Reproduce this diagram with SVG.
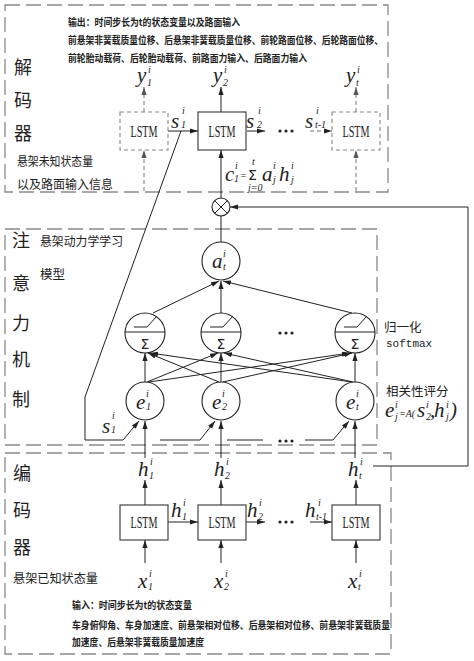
<svg xmlns="http://www.w3.org/2000/svg" width="474" height="661" viewBox="0 0 474 661">
<defs>
<marker id="ah" viewBox="0 0 10 10" refX="10" refY="5" markerWidth="8" markerHeight="8" orient="auto" markerUnits="userSpaceOnUse"><path d="M0,1.8 L10,5 L0,8.2 z" fill="#222"/></marker>
<marker id="ahg" viewBox="0 0 10 10" refX="10" refY="5" markerWidth="8" markerHeight="8" orient="auto" markerUnits="userSpaceOnUse"><path d="M0,1.8 L10,5 L0,8.2 z" fill="#555"/></marker>
</defs>
<style>
.frame{fill:none;stroke:#8a8a8a;stroke-width:1.3;stroke-dasharray:15 6}
.ln{fill:none;stroke:#222;stroke-width:1}
.dl{fill:none;stroke:#777;stroke-width:1;stroke-dasharray:4 3}
.box{fill:#fff;stroke:#333;stroke-width:1.1}
.dbox{fill:#fff;stroke:#888;stroke-width:1.1;stroke-dasharray:4 3}
.circ{fill:#fff;stroke:#222;stroke-width:1.1}
.big{font-family:"Noto Sans CJK SC","Noto Sans",sans-serif;font-size:18px;fill:#222}
.mid{font-family:"Noto Sans CJK SC","Noto Sans",sans-serif;font-size:12.5px;fill:#222}
.sm{font-family:"Noto Sans CJK SC","Noto Sans",sans-serif;font-size:10px;font-weight:bold;fill:#222}
.lstm{font-family:"Liberation Serif",serif;font-size:16px;fill:#222}
.m{font-family:"Liberation Serif",serif;font-style:italic;font-size:21px;fill:#222}
.ms{font-family:"Liberation Serif",serif;font-style:italic;font-size:10px;fill:#222}
.mono{font-family:"Liberation Mono",monospace;font-size:11px;fill:#222}
.sig{font-family:"DejaVu Sans",sans-serif;font-size:14px;fill:#222}
</style>

<g id="decoder-frame">
<rect class="frame" x="5" y="5" width="383" height="187"/>
<text class="big" x="14" y="74">解</text>
<text class="big" x="14" y="107">码</text>
<text class="big" x="14" y="140">器</text>
<text class="mid" x="17" y="166" textLength="76" lengthAdjust="spacingAndGlyphs">悬架未知状态量</text>
<text class="mid" x="17" y="189" textLength="96" lengthAdjust="spacingAndGlyphs">以及路面输入信息</text>
<text class="sm" x="68" y="26" textLength="172" lengthAdjust="spacingAndGlyphs">输出：时间步长为t的状态变量以及路面输入</text>
<text class="sm" x="68" y="44" textLength="315" lengthAdjust="spacingAndGlyphs">前悬架非簧载质量位移、后悬架非簧载质量位移、前轮路面位移、后轮路面位移、</text>
<text class="sm" x="68" y="62" textLength="239" lengthAdjust="spacingAndGlyphs">前轮胎动载荷、后轮胎动载荷、前路面力输入、后路面力输入</text>
</g>
<g id="attention-frame">
<rect class="frame" x="5" y="229" width="372" height="216"/>
<text class="big" x="12" y="247">注</text>
<text class="big" x="12" y="290">意</text>
<text class="big" x="12" y="330">力</text>
<text class="big" x="12" y="366">机</text>
<text class="big" x="12" y="406">制</text>
<text class="mid" x="40" y="246" textLength="83" lengthAdjust="spacingAndGlyphs">悬架动力学学习</text>
<text class="mid" x="40" y="279">模型</text>
<text class="mid" x="384" y="332">归一化</text>
<text class="mono" x="386" y="347">softmax</text>
<text class="mid" x="386" y="396">相关性评分</text>
<text class="m" x="385" y="417">e</text><text class="ms" x="395" y="408">i</text><text class="ms" x="395" y="420">j</text>
<text class="ms" x="399" y="417" font-size="11">=A(</text>
<text class="m" x="417" y="417">s</text><text class="ms" x="426" y="408">i</text><text class="ms" x="426" y="420">2</text>
<text class="m" x="430" y="417" font-size="15">,</text>
<text class="m" x="434" y="417">h</text><text class="ms" x="446" y="408">i</text><text class="ms" x="446" y="420">j</text>
<text class="m" x="450" y="417" font-size="17">)</text>
</g>
<g id="encoder-frame">
<rect class="frame" x="5" y="453" width="386" height="201"/>
<text class="big" x="13" y="480">编</text>
<text class="big" x="13" y="517">码</text>
<text class="big" x="13" y="554">器</text>
<text class="mid" x="13" y="583" textLength="85" lengthAdjust="spacingAndGlyphs">悬架已知状态量</text>
<text class="sm" x="72" y="609" textLength="120" lengthAdjust="spacingAndGlyphs">输入：时间步长为t的状态变量</text>
<text class="sm" x="72" y="629" textLength="318" lengthAdjust="spacingAndGlyphs">车身俯仰角、车身加速度、前悬架相对位移、后悬架相对位移、前悬架非簧载质量</text>
<text class="sm" x="72" y="646" textLength="132" lengthAdjust="spacingAndGlyphs">加速度、后悬架非簧载质量加速度</text>
</g>

<g id="connectors">
<line class="dl" x1="144" y1="112" x2="144" y2="87" marker-end="url(#ahg)"/>
<line class="ln" x1="221" y1="112" x2="221" y2="87" marker-end="url(#ah)"/>
<line class="dl" x1="356" y1="112" x2="356" y2="87" marker-end="url(#ahg)"/>
<line class="dl" x1="144" y1="191" x2="144" y2="150" marker-end="url(#ahg)"/>
<line class="dl" x1="356" y1="191" x2="356" y2="150" marker-end="url(#ahg)"/>
<line class="ln" x1="168" y1="131" x2="198" y2="131" marker-end="url(#ah)"/>
<line class="ln" x1="247" y1="131" x2="265" y2="131" marker-end="url(#ah)"/>
<line class="dl" x1="310" y1="131" x2="332" y2="131" marker-end="url(#ah)"/>
<line class="ln" x1="221" y1="198" x2="221" y2="150" marker-end="url(#ah)"/>
<polyline class="ln" points="373,466 468,466 468,207 230,207" marker-end="url(#ah)"/>
<line class="ln" x1="221" y1="242" x2="221" y2="216"/>
<line class="ln" x1="153" y1="313" x2="219" y2="281" marker-end="url(#ah)"/>
<line class="ln" x1="221" y1="313" x2="221" y2="281" marker-end="url(#ah)"/>
<line class="ln" x1="352" y1="313" x2="223" y2="281" marker-end="url(#ah)"/>
<line class="ln" x1="145" y1="382" x2="145" y2="353" marker-end="url(#ah)"/>
<line class="ln" x1="147" y1="382" x2="218" y2="353" marker-end="url(#ah)"/>
<line class="ln" x1="149" y1="382" x2="350" y2="353" marker-end="url(#ah)"/>
<line class="ln" x1="219" y1="382" x2="148" y2="353" marker-end="url(#ah)"/>
<line class="ln" x1="221" y1="382" x2="221" y2="353" marker-end="url(#ah)"/>
<line class="ln" x1="223" y1="382" x2="352" y2="353" marker-end="url(#ah)"/>
<line class="ln" x1="352" y1="382" x2="150" y2="353" marker-end="url(#ah)"/>
<line class="ln" x1="353" y1="382" x2="224" y2="353" marker-end="url(#ah)"/>
<line class="ln" x1="355" y1="382" x2="355" y2="353" marker-end="url(#ah)"/>
<polyline class="ln" points="181,131 85,397 85,440 123,440 139,421" marker-end="url(#ah)"/>
<polyline class="ln" points="160,440 200,440 215,421" marker-end="url(#ah)"/>
<line class="ln" x1="227" y1="440" x2="263" y2="440"/>
<polyline class="ln" points="305,440 333,440 349,421" marker-end="url(#ah)"/>
<line class="ln" x1="145" y1="458" x2="145" y2="421" marker-end="url(#ah)"/>
<line class="ln" x1="221" y1="458" x2="221" y2="421" marker-end="url(#ah)"/>
<line class="ln" x1="355" y1="458" x2="355" y2="421" marker-end="url(#ah)"/>
<line class="ln" x1="145" y1="505" x2="145" y2="480" marker-end="url(#ah)"/>
<line class="ln" x1="221" y1="505" x2="221" y2="480" marker-end="url(#ah)"/>
<line class="ln" x1="356" y1="505" x2="356" y2="480" marker-end="url(#ah)"/>
<line class="ln" x1="145" y1="563" x2="145" y2="540" marker-end="url(#ah)"/>
<line class="ln" x1="221" y1="563" x2="221" y2="540" marker-end="url(#ah)"/>
<line class="ln" x1="356" y1="563" x2="356" y2="540" marker-end="url(#ah)"/>
<line class="ln" x1="168" y1="522" x2="198" y2="522" marker-end="url(#ah)"/>
<line class="ln" x1="246" y1="522" x2="265" y2="522" marker-end="url(#ah)"/>
<line class="ln" x1="310" y1="522" x2="332" y2="522" marker-end="url(#ah)"/>
</g>

<g id="ellipses" fill="#222">
<circle cx="280" cy="131" r="1.6"/><circle cx="286" cy="131" r="1.6"/><circle cx="292" cy="131" r="1.6"/>
<circle cx="280" cy="333" r="1.6"/><circle cx="286" cy="333" r="1.6"/><circle cx="292" cy="333" r="1.6"/>
<circle cx="280" cy="441" r="1.6"/><circle cx="286" cy="441" r="1.6"/><circle cx="292" cy="441" r="1.6"/>
<circle cx="280" cy="522" r="1.6"/><circle cx="286" cy="522" r="1.6"/><circle cx="292" cy="522" r="1.6"/>
</g>

<g id="dec-lstm1"><rect class="dbox" x="120" y="112" width="48" height="38"/><text class="lstm" x="144" y="137" text-anchor="middle" textLength="27" lengthAdjust="spacingAndGlyphs">LSTM</text></g>
<g id="dec-lstm2"><rect class="box" x="198" y="112" width="48" height="38"/><text class="lstm" x="222" y="137" text-anchor="middle" textLength="27" lengthAdjust="spacingAndGlyphs">LSTM</text></g>
<g id="dec-lstm3"><rect class="dbox" x="332" y="112" width="48" height="38"/><text class="lstm" x="356" y="137" text-anchor="middle" textLength="27" lengthAdjust="spacingAndGlyphs">LSTM</text></g>
<g id="dec-labels">
<text class="m" x="137" y="82">y</text><text class="ms" x="148" y="73" font-size="9">i</text><text class="ms" x="147" y="86">1</text>
<text class="m" x="213" y="82">y</text><text class="ms" x="224" y="73" font-size="9">i</text><text class="ms" x="223" y="86">2</text>
<text class="m" x="346" y="82">y</text><text class="ms" x="357" y="73" font-size="9">i</text><text class="ms" x="356" y="86">t</text>
<text class="m" x="171" y="128">s</text><text class="ms" x="182" y="114">i</text><text class="ms" x="181" y="128">1</text>
<text class="m" x="246" y="128">s</text><text class="ms" x="258" y="114">i</text><text class="ms" x="257" y="128">2</text>
<text class="m" x="305" y="128">s</text><text class="ms" x="316" y="114">i</text><text class="ms" x="315" y="128">t-1</text>
<text class="m" x="225" y="181">c</text><text class="ms" x="235" y="169">i</text><text class="ms" x="234" y="182">1</text>
<text class="ms" x="240" y="179" font-size="12">=</text>
<text class="sig" x="248" y="180" font-size="13">Σ</text><text class="ms" x="252" y="165" font-size="8">t</text><text class="ms" x="248" y="191" font-size="8">j=0</text>
<text class="m" x="262" y="181">a</text><text class="ms" x="273" y="169">i</text><text class="ms" x="273" y="183">j</text>
<text class="m" x="279" y="181">h</text><text class="ms" x="291" y="169">i</text><text class="ms" x="291" y="183">j</text>
</g>
<g id="otimes">
<circle class="circ" cx="221" cy="207" r="9"/>
<line class="ln" x1="214.6" y1="200.6" x2="227.4" y2="213.4"/>
<line class="ln" x1="227.4" y1="200.6" x2="214.6" y2="213.4"/>
</g>

<g id="a-node"><circle class="circ" cx="221" cy="261" r="19"/><text class="m" x="212" y="268">a</text><text class="ms" x="223" y="257">i</text><text class="ms" x="223" y="270">t</text></g>
<g id="softmax1"><circle class="circ" cx="145" cy="333" r="20"/><line class="ln" x1="125" y1="332" x2="165" y2="332"/><polyline class="ln" points="134,327 147,327 157,316"/><text class="sig" x="145" y="349" text-anchor="middle">Σ</text></g>
<g id="softmax2"><circle class="circ" cx="221" cy="333" r="20"/><line class="ln" x1="201" y1="332" x2="241" y2="332"/><polyline class="ln" points="210,327 223,327 233,316"/><text class="sig" x="221" y="349" text-anchor="middle">Σ</text></g>
<g id="softmax3"><circle class="circ" cx="355" cy="333" r="20"/><line class="ln" x1="335" y1="332" x2="375" y2="332"/><polyline class="ln" points="344,327 357,327 367,316"/><text class="sig" x="355" y="349" text-anchor="middle">Σ</text></g>
<g id="e1"><circle class="circ" cx="145" cy="401" r="19"/><text class="m" x="136" y="409">e</text><text class="ms" x="146" y="397">i</text><text class="ms" x="146" y="410">1</text></g>
<g id="e2"><circle class="circ" cx="221" cy="401" r="19"/><text class="m" x="212" y="409">e</text><text class="ms" x="222" y="397">i</text><text class="ms" x="222" y="410">2</text></g>
<g id="et"><circle class="circ" cx="355" cy="401" r="19"/><text class="m" x="346" y="409">e</text><text class="ms" x="356" y="397">i</text><text class="ms" x="356" y="410">t</text></g>
<g id="s1-label"><text class="m" x="102" y="433">s</text><text class="ms" x="112" y="419">i</text><text class="ms" x="111" y="433">1</text></g>

<g id="enc-lstm1"><rect class="box" x="120" y="505" width="48" height="35"/><text class="lstm" x="144" y="528" text-anchor="middle" textLength="27" lengthAdjust="spacingAndGlyphs">LSTM</text></g>
<g id="enc-lstm2"><rect class="box" x="198" y="505" width="48" height="35"/><text class="lstm" x="222" y="528" text-anchor="middle" textLength="27" lengthAdjust="spacingAndGlyphs">LSTM</text></g>
<g id="enc-lstm3"><rect class="box" x="332" y="505" width="48" height="35"/><text class="lstm" x="356" y="528" text-anchor="middle" textLength="27" lengthAdjust="spacingAndGlyphs">LSTM</text></g>
<g id="enc-labels">
<text class="m" x="138" y="476">h</text><text class="ms" x="150" y="465">i</text><text class="ms" x="149" y="479">1</text>
<text class="m" x="214" y="476">h</text><text class="ms" x="226" y="465">i</text><text class="ms" x="225" y="479">2</text>
<text class="m" x="348" y="476">h</text><text class="ms" x="360" y="465">i</text><text class="ms" x="359" y="479">t</text>
<text class="m" x="171" y="517">h</text><text class="ms" x="183" y="506">i</text><text class="ms" x="182" y="520">1</text>
<text class="m" x="247" y="517">h</text><text class="ms" x="259" y="506">i</text><text class="ms" x="258" y="520">2</text>
<text class="m" x="305" y="517">h</text><text class="ms" x="318" y="506">i</text><text class="ms" x="316" y="520">t-1</text>
<text class="m" x="138" y="588">x</text><text class="ms" x="149" y="577">i</text><text class="ms" x="148" y="590">1</text>
<text class="m" x="214" y="588">x</text><text class="ms" x="225" y="577">i</text><text class="ms" x="224" y="590">2</text>
<text class="m" x="348" y="588">x</text><text class="ms" x="359" y="577">i</text><text class="ms" x="358" y="590">t</text>
</g>
</svg>
